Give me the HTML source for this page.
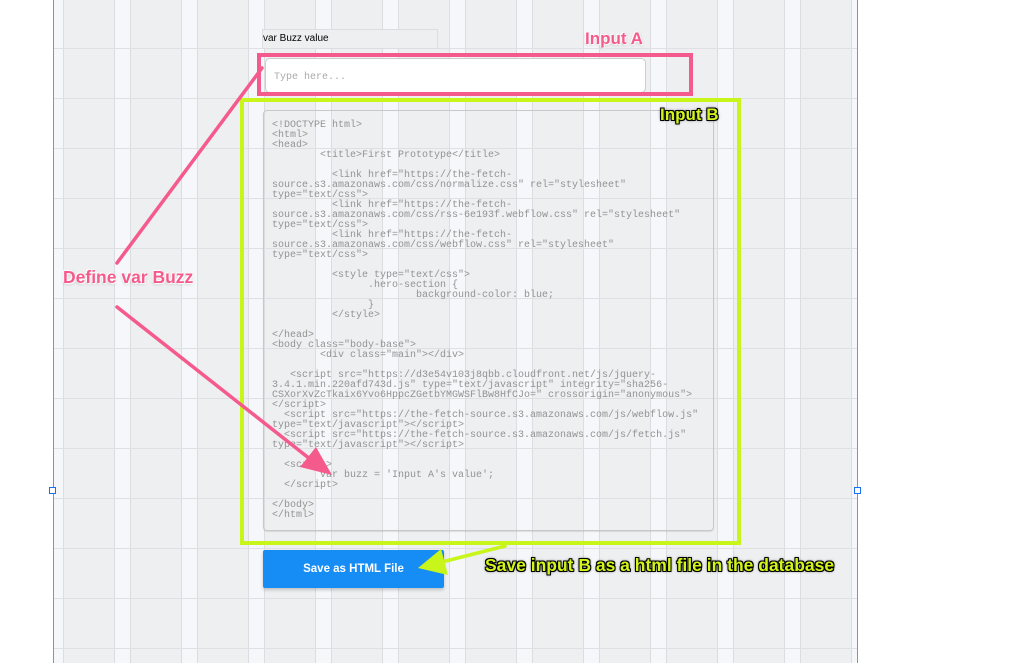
<!DOCTYPE html>
<html><head><meta charset="utf-8"><style>
html,body{margin:0;padding:0;width:1024px;height:663px;background:#fff;overflow:hidden;font-family:"Liberation Sans",sans-serif;}
#canvas{position:absolute;left:53px;top:0;width:805px;height:663px;background:#eeeff1;border-left:1px solid #5a9cf0;border-right:1px solid #5a9cf0;box-sizing:border-box;overflow:hidden;}
.stripe{position:absolute;top:0;height:663px;width:17px;background:#f5f7fa;border-left:1px solid #dcdde0;border-right:1px solid #dcdde0;box-sizing:border-box;}
.hl{position:absolute;left:0;width:805px;height:1px;background:#dfe0e3;}
.abs{position:absolute;}
pre{margin:0;font-family:"Liberation Mono",monospace;font-size:10px;line-height:10px;color:#939393;}
.pinklabel{color:#f55a8c;font-weight:bold;text-shadow:0 0 2px #fff,1px 1px 1px #fff,-1px -1px 1px #fff,0 1px 3px rgba(0,0,0,.25);}
.greenlabel{color:#d4f51a;font-weight:bold;text-shadow:1px 0 0 #000,-1px 0 0 #000,0 1px 0 #000,0 -1px 0 #000,1px 1px 0 #000,-1px -1px 0 #000,1px -1px 0 #000,-1px 1px 0 #000,0 0 3px #000;}
</style></head><body>
<div id="canvas">
<div class="stripe" style="left:-7px"></div>
<div class="stripe" style="left:60px"></div>
<div class="stripe" style="left:127px"></div>
<div class="stripe" style="left:194px"></div>
<div class="stripe" style="left:261px"></div>
<div class="stripe" style="left:328px"></div>
<div class="stripe" style="left:395px"></div>
<div class="stripe" style="left:462px"></div>
<div class="stripe" style="left:529px"></div>
<div class="stripe" style="left:596px"></div>
<div class="stripe" style="left:663px"></div>
<div class="stripe" style="left:730px"></div>
<div class="stripe" style="left:797px"></div>
<div class="hl" style="top:48px"></div><div class="hl" style="top:98px"></div><div class="hl" style="top:148px"></div><div class="hl" style="top:198px"></div><div class="hl" style="top:248px"></div><div class="hl" style="top:298px"></div><div class="hl" style="top:348px"></div><div class="hl" style="top:398px"></div><div class="hl" style="top:448px"></div><div class="hl" style="top:498px"></div><div class="hl" style="top:548px"></div><div class="hl" style="top:598px"></div><div class="hl" style="top:648px"></div>
</div>
<div class="abs" style="left:49px;top:487px;width:5px;height:5px;border:1px solid #1a6ef0;background:#fff"></div>
<div class="abs" style="left:854px;top:487px;width:5px;height:5px;border:1px solid #1a6ef0;background:#fff"></div>

<div class="abs" style="left:262px;top:29px;width:176px;height:20px;border:1px solid #dcdde0;box-sizing:border-box;font-size:10px;line-height:17px;color:#000;background:#eeeff1">var Buzz value</div>
<div class="abs" style="left:265px;top:58px;width:381px;height:35px;background:#fff;border:1px solid #ccc;border-radius:5px;box-sizing:border-box;"><pre style="position:absolute;left:8px;top:14px;color:#aaa">Type here...</pre></div>
<div class="abs" style="left:257px;top:53px;width:436px;height:43px;border:4px solid #f55a8c;box-sizing:border-box;"></div>
<div class="abs pinklabel" style="left:585px;top:29px;font-size:17px;">Input A</div>

<div class="abs" style="left:263px;top:110px;width:451px;height:421px;border:1px solid #c8c8c8;border-radius:4px;box-sizing:border-box;box-shadow:0 1px 1px rgba(0,0,0,.1)"></div>
<pre class="abs" style="left:272px;top:121px">&lt;!DOCTYPE html&gt;
&lt;html&gt;
&lt;head&gt;
        &lt;title&gt;First Prototype&lt;/title&gt;

          &lt;link href="https://the-fetch-
source.s3.amazonaws.com/css/normalize.css" rel="stylesheet"
type="text/css"&gt;
          &lt;link href="https://the-fetch-
source.s3.amazonaws.com/css/rss-6e193f.webflow.css" rel="stylesheet"
type="text/css"&gt;
          &lt;link href="https://the-fetch-
source.s3.amazonaws.com/css/webflow.css" rel="stylesheet"
type="text/css"&gt;

          &lt;style type="text/css"&gt;
                .hero-section {
                        background-color: blue;
                }
          &lt;/style&gt;

&lt;/head&gt;
&lt;body class="body-base"&gt;
        &lt;div class="main"&gt;&lt;/div&gt;

   &lt;script src="https://d3e54v103j8qbb.cloudfront.net/js/jquery-
3.4.1.min.220afd743d.js" type="text/javascript" integrity="sha256-
CSXorXvZcTkaix6Yvo6HppcZGetbYMGWSFlBw8HfCJo=" crossorigin="anonymous"&gt;
&lt;/script&gt;
  &lt;script src="https://the-fetch-source.s3.amazonaws.com/js/webflow.js"
type="text/javascript"&gt;&lt;/script&gt;
  &lt;script src="https://the-fetch-source.s3.amazonaws.com/js/fetch.js"
type="text/javascript"&gt;&lt;/script&gt;

  &lt;script&gt;
        var buzz = 'Input A's value';
  &lt;/script&gt;

&lt;/body&gt;
&lt;/html&gt;</pre>
<div class="abs" style="left:240px;top:98px;width:501px;height:447px;border:4px solid #c8f51a;box-sizing:border-box;"></div>
<div class="abs greenlabel" style="left:660px;top:105px;font-size:17px;">Input B</div>

<div class="abs" style="left:263px;top:550px;width:181px;height:38px;background:#168cf5;border-radius:2px;box-shadow:0 2px 3px rgba(0,0,0,.2);color:#fff;font-weight:bold;font-size:11.5px;text-align:center;line-height:38px;">Save as HTML File</div>
<div class="abs greenlabel" style="left:485px;top:555px;font-size:17.5px;white-space:nowrap;">Save input B as a html file in the database</div>
<div class="abs pinklabel" style="left:63px;top:267px;font-size:17.5px;white-space:nowrap;">Define var Buzz</div>

<svg class="abs" style="left:0;top:0" width="1024" height="663">
<line x1="117" y1="263" x2="262" y2="68" stroke="#f55a8c" stroke-width="3.5" stroke-linecap="round"/>
<line x1="117" y1="307" x2="310" y2="459" stroke="#f55a8c" stroke-width="3.5" stroke-linecap="round"/>
<polygon points="332,475 300,467 316,447" fill="#f55a8c"/>
<line x1="505" y1="546" x2="442" y2="562" stroke="#c8f51a" stroke-width="3.5" stroke-linecap="round"/>
<polygon points="418,568 448,575 441,549" fill="#c8f51a"/>
</svg>
</body></html>
